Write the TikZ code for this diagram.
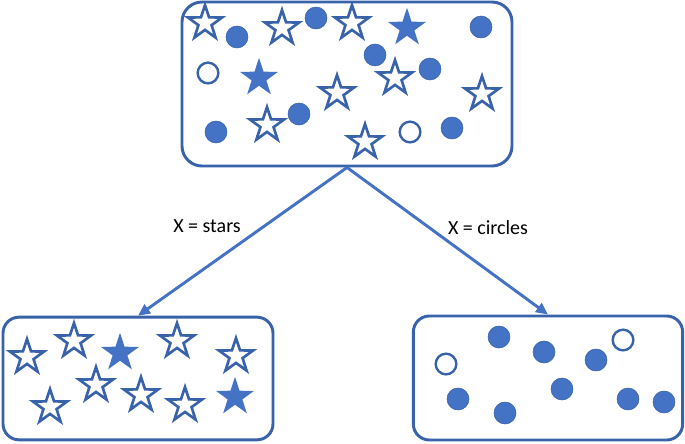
\documentclass[tikz,border=0pt]{standalone}
\usepackage{fontspec}
\setmainfont{Carlito}
\usetikzlibrary{shapes.geometric,arrows.meta}
\definecolor{myblue}{HTML}{4472C4}
\definecolor{dkblue}{HTML}{3862AA}
\begin{document}
\begin{tikzpicture}[x=0.75pt,y=-0.75pt,
 box/.style={draw=dkblue, line width=2.2pt, rounded corners=15pt, inner sep=0pt},
 ostar/.style={star, star points=5, star point ratio=2.6, draw=dkblue, fill=white, line width=2pt, minimum size=27pt, inner sep=0pt},
 fstar/.style={ostar, fill=myblue, draw=myblue, line width=1pt},
 fdot/.style={circle, fill=myblue, draw=dkblue, line width=0.4pt, minimum size=16.5pt, inner sep=0pt},
 odot/.style={circle, draw=dkblue, fill=white, line width=1.8pt, minimum size=15.5pt, inner sep=0pt},
 arr/.style={draw=myblue, line width=2.2pt, -{Triangle[length=9pt,width=8pt]}},
 lab/.style={font=\fontsize{15}{18}\selectfont, inner sep=0pt}]
\useasboundingbox (0,0) rectangle (685,443);
% boxes
\node[box, minimum width=247.5pt, minimum height=123pt] (top) at (347,84) {};
\node[box, rounded corners=12pt, minimum width=202.5pt, minimum height=92pt] (bl) at (138,378.5) {};
\node[box, rounded corners=12pt, minimum width=202pt, minimum height=93pt] (br) at (548,378) {};
% arrows
\draw[arr] (top.south) -- (bl.north);
\draw[arr] (top.south) -- (br.north);
\node[lab] (l1) at (207,226) {X = stars};
\node[lab] (l2) at (488,228) {X = circles};
% top box contents
\node[ostar] (t1) at (205,23) {};
\node[fdot] (t2) at (237,37) {};
\node[ostar] (t3) at (282,28) {};
\node[fdot] (t4) at (316,18) {};
\node[ostar] (t5) at (352,23) {};
\node[fstar] (t6) at (407,28) {};
\node[fdot] (t7) at (481,27) {};
\node[fdot] (t8) at (375,55) {};
\node[odot] (t9) at (208,73) {};
\node[fstar] (t10) at (259,78) {};
\node[ostar] (t11) at (395,78) {};
\node[fdot] (t12) at (430,69) {};
\node[ostar] (t13) at (337,93) {};
\node[ostar] (t14) at (482,94) {};
\node[fdot] (t15) at (216,132) {};
\node[ostar] (t16) at (267,125) {};
\node[fdot] (t17) at (299,114) {};
\node[ostar] (t18) at (365,142) {};
\node[odot] (t19) at (410,132) {};
\node[fdot] (t20) at (452,128) {};
% bottom-left contents
\node[ostar] (a1) at (27,357) {};
\node[ostar] (a2) at (74,341) {};
\node[fstar] (a3) at (120,353) {};
\node[ostar] (a4) at (177,341) {};
\node[ostar] (a5) at (236,356) {};
\node[ostar] (a6) at (50,407) {};
\node[ostar] (a7) at (96,385) {};
\node[ostar] (a8) at (141,395) {};
\node[ostar] (a9) at (185,405) {};
\node[fstar] (a10) at (235,397) {};
% bottom-right contents
\node[fdot] (b1) at (499,337) {};
\node[odot] (b2) at (623,340) {};
\node[odot] (b3) at (446,364) {};
\node[fdot] (b4) at (544,352) {};
\node[fdot] (b5) at (596,360) {};
\node[fdot] (b6) at (458,399) {};
\node[fdot] (b7) at (562,389) {};
\node[fdot] (b8) at (505,413) {};
\node[fdot] (b9) at (628,399) {};
\node[fdot] (b10) at (664,402) {};
\end{tikzpicture}
\end{document}
